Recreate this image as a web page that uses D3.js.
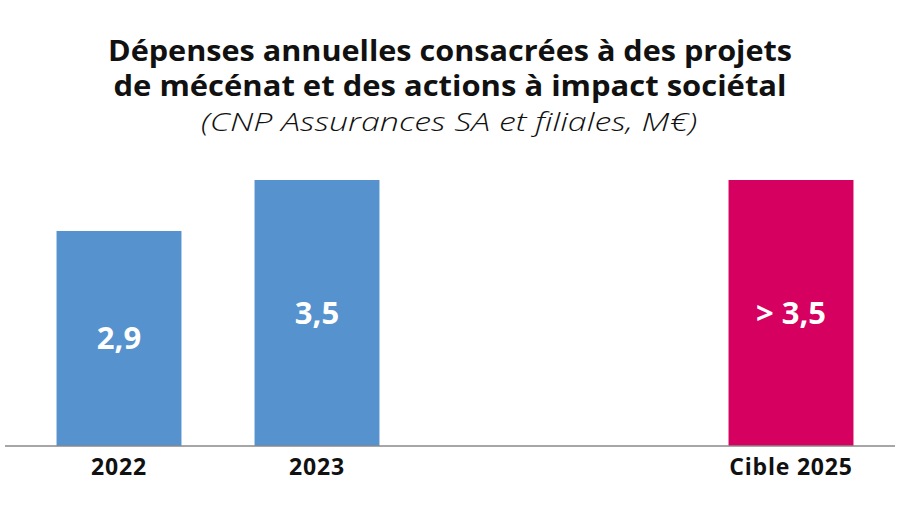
<!DOCTYPE html>
<html>
<head>
<meta charset="utf-8">
<script src="https://cdn.jsdelivr.net/npm/d3@7"></script>
<style>
  body { margin: 0; background: #fff; }
  text { font-family: "Open Sans", Lato, sans-serif; }
</style>
</head>
<body>
<div id="chart"></div>
<script>
// data
var actualYears = ["2022", "2023"];
var actualValues = [2.9, 3.5];
var actualLabels = ["2,9", "3,5"];
var targetCats = ["Cible 2025"];
var targetValues = [3.5];
var targetLabels = ["> 3,5"];
var titleLines = ["Dépenses annuelles consacrées à des projets", "de mécénat et des actions à impact sociétal"];
var subtitle = "(CNP Assurances SA et filiales, M€)";

var W = 900, H = 514;
var baseY = 446, topY = 180;

var svg = d3.select("#chart").append("svg")
    .attr("width", W).attr("height", H);

// titles
var titleW = [684, 673];
svg.selectAll(".title")
    .data(titleLines)
    .enter().append("text")
    .attr("class", "title")
    .attr("x", W / 2)
    .attr("y", function (d, i) { return 61 + i * 35; })
    .attr("text-anchor", "middle")
    .attr("font-size", 28)
    .attr("font-weight", 700)
    .attr("fill", "#111")
    .attr("textLength", function (d, i) { return titleW[i]; })
    .attr("lengthAdjust", "spacingAndGlyphs")
    .text(function (d) { return d; });

svg.append("text")
    .attr("x", 449).attr("y", 131)
    .attr("text-anchor", "middle")
    .attr("font-size", 25)
    .attr("font-style", "italic")
    .attr("font-weight", 300)
    .attr("fill", "#111")
    .attr("textLength", 496)
    .attr("lengthAdjust", "spacingAndGlyphs")
    .text(subtitle);

// axis does not start at zero in the source chart
var y = d3.scaleLinear().domain([0.37, 3.5]).range([baseY, topY]);

var xA = d3.scaleBand().domain(actualYears).range([20, 416])
    .paddingInner(0.369).paddingOuter(0.1845);
var xT = d3.scaleBand().domain(targetCats).range([692, 890])
    .paddingInner(0.369).paddingOuter(0.1845);

function group(x, cats, vals, labels, color) {
    var rows = cats.map(function (c, i) { return { c: c, v: vals[i], l: labels[i] }; });
    var g = svg.append("g");
    g.selectAll("rect").data(rows).enter().append("rect")
        .attr("x", function (d) { return x(d.c); })
        .attr("y", function (d) { return y(d.v); })
        .attr("width", x.bandwidth())
        .attr("height", function (d) { return baseY - y(d.v); })
        .attr("fill", color);
    g.selectAll(".val").data(rows).enter().append("text")
        .attr("class", "val")
        .attr("x", function (d) { return x(d.c) + x.bandwidth() / 2; })
        .attr("y", function (d) { return (y(d.v) + baseY) / 2 + 11; })
        .attr("text-anchor", "middle")
        .attr("font-size", 31)
        .attr("font-weight", 700)
        .attr("fill", "#fff")
        .text(function (d) { return d.l; });
    g.selectAll(".cat").data(rows).enter().append("text")
        .attr("class", "cat")
        .attr("x", function (d) { return x(d.c) + x.bandwidth() / 2; })
        .attr("y", baseY + 29)
        .attr("text-anchor", "middle")
        .attr("font-size", 23)
        .attr("font-weight", 700)
        .attr("letter-spacing", 0.8)
        .attr("fill", "#111")
        .text(function (d) { return d.c; });
}

group(xA, actualYears, actualValues, actualLabels, "#5592CE");
group(xT, targetCats, targetValues, targetLabels, "#D50060");

// baseline
svg.append("line")
    .attr("x1", 5).attr("x2", 895)
    .attr("y1", baseY).attr("y2", baseY)
    .attr("stroke", "#888").attr("stroke-width", 1.5);
</script>
</body>
</html>
